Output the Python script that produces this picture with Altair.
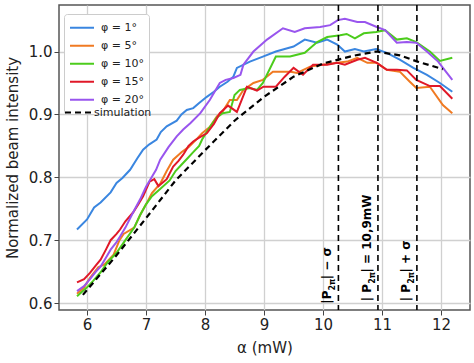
import altair as alt
import pandas as pd

X_LABEL = "α (mW)"
Y_LABEL = "Normalized beam intensity"

# --- measured beam intensity per angle phi -------------------------------
phi_labels = ["φ = 1°", "φ = 5°", "φ = 10°", "φ = 15°", "φ = 20°"]
phi_colors = ["#3a86e0", "#f07a22", "#4ccc1c", "#e01828", "#9955ee"]

phi1_x = [5.83, 6.0, 6.12, 6.23, 6.4, 6.5, 6.6, 6.73, 6.85, 6.95, 7.05, 7.18, 7.25,
          7.35, 7.52, 7.6, 7.69, 7.8, 7.9, 8.03, 8.15, 8.25, 8.38, 8.48, 8.54, 8.76,
          8.98, 9.2, 9.35, 9.5, 9.69, 9.9, 10.07, 10.24, 10.37, 10.54, 10.69, 10.9,
          11.08, 11.3, 11.53, 11.76, 11.98, 12.19]
phi1_y = [0.717, 0.733, 0.752, 0.76, 0.776, 0.791, 0.799, 0.812, 0.83, 0.844, 0.852,
          0.860, 0.872, 0.881, 0.89, 0.900, 0.907, 0.91, 0.918, 0.928, 0.936, 0.944,
          0.952, 0.96, 0.974, 0.984, 0.992, 1.0, 1.004, 1.008, 1.019, 1.014, 1.019,
          1.011, 1.0, 1.004, 1.0, 1.004, 0.998, 0.987, 0.974, 0.963, 0.95, 0.936]

phi5_x = [5.83, 5.95, 6.05, 6.19, 6.3, 6.45, 6.55, 6.62, 6.8, 6.9, 7.0, 7.1, 7.24,
          7.35, 7.46, 7.6, 7.72, 7.85, 7.95, 8.08, 8.2, 8.3, 8.42, 8.54, 8.65, 8.82,
          8.98, 9.15, 9.32, 9.45, 9.56, 9.78, 10.0, 10.24, 10.41, 10.58, 10.75, 10.91,
          11.08, 11.3, 11.47, 11.58, 11.81, 12.03, 12.19]
phi5_y = [0.615, 0.625, 0.64, 0.657, 0.662, 0.677, 0.70, 0.71, 0.72, 0.74, 0.757,
          0.775, 0.79, 0.81, 0.828, 0.84, 0.848, 0.86, 0.87, 0.88, 0.897, 0.905,
          0.923, 0.923, 0.939, 0.95, 0.955, 0.968, 0.968, 0.968, 0.966, 0.976, 0.979,
          0.982, 0.984, 0.99, 0.982, 0.982, 0.971, 0.968, 0.952, 0.942, 0.944, 0.915,
          0.902]

phi10_x = [5.83, 6.0, 6.1, 6.23, 6.35, 6.5, 6.65, 6.8, 6.9, 7.0, 7.1, 7.22, 7.4,
           7.5, 7.6, 7.7, 7.8, 7.9, 7.95, 8.08, 8.2, 8.3, 8.42, 8.5, 8.59, 8.76,
           8.88, 8.98, 9.2, 9.44, 9.69, 9.9, 10.07, 10.29, 10.4, 10.54, 10.69, 10.9,
           11.05, 11.25, 11.42, 11.58, 11.81, 11.98, 12.19]
phi10_y = [0.611, 0.625, 0.635, 0.649, 0.665, 0.68, 0.70, 0.72, 0.74, 0.757, 0.77,
           0.78, 0.795, 0.81, 0.82, 0.83, 0.84, 0.85, 0.86, 0.88, 0.895, 0.902,
           0.904, 0.931, 0.939, 0.942, 0.939, 0.95, 0.992, 0.992, 0.998, 1.015,
           1.023, 1.026, 1.028, 1.021, 1.029, 1.031, 1.034, 1.019, 1.021, 1.015, 1.0,
           0.985, 0.99]

phi15_x = [5.83, 5.95, 6.05, 6.15, 6.23, 6.32, 6.4, 6.5, 6.56, 6.65, 6.78, 6.87,
           6.95, 7.06, 7.14, 7.21, 7.35, 7.46, 7.55, 7.63, 7.72, 7.8, 7.9, 8.03, 8.15,
           8.25, 8.39, 8.54, 8.71, 8.88, 8.99, 9.1, 9.2, 9.35, 9.5, 9.66, 9.83, 10.07,
           10.24, 10.37, 10.58, 10.71, 10.91, 11.08, 11.25, 11.42, 11.58, 11.81,
           11.98, 12.19]
phi15_y = [0.633, 0.638, 0.648, 0.66, 0.669, 0.685, 0.70, 0.71, 0.717, 0.73, 0.744,
           0.757, 0.77, 0.793, 0.797, 0.786, 0.797, 0.817, 0.826, 0.836, 0.85, 0.857,
           0.863, 0.87, 0.885, 0.902, 0.914, 0.904, 0.944, 0.938, 0.944, 0.944,
           0.944, 0.96, 0.974, 0.963, 0.979, 0.979, 0.982, 0.979, 0.987, 0.99, 0.982,
           0.971, 0.971, 0.97, 0.955, 0.945, 0.945, 0.925]

phi20_x = [5.83, 5.95, 6.05, 6.15, 6.23, 6.32, 6.4, 6.5, 6.56, 6.65, 6.78, 6.9, 7.0,
           7.07, 7.17, 7.24, 7.38, 7.52, 7.63, 7.75, 7.92, 8.08, 8.25, 8.35, 8.48,
           8.6, 8.65, 8.82, 9.05, 9.32, 9.52, 9.69, 9.95, 10.12, 10.25, 10.37, 10.58,
           10.71, 10.91, 11.05, 11.25, 11.42, 11.58, 11.76, 11.95, 12.19]
phi20_y = [0.619, 0.627, 0.638, 0.65, 0.658, 0.672, 0.685, 0.697, 0.706, 0.72, 0.744,
           0.765, 0.785, 0.796, 0.812, 0.828, 0.848, 0.865, 0.876, 0.886, 0.902,
           0.923, 0.95, 0.955, 0.958, 0.963, 0.979, 1.0, 1.019, 1.037, 1.031, 1.037,
           1.039, 1.042, 1.05, 1.052, 1.047, 1.047, 1.039, 1.034, 1.014, 1.015, 1.014,
           1.0, 0.984, 0.955]

# --- simulated curve -------------------------------------------------------
sim_x = [5.93, 6.5, 7.0, 7.5, 8.0, 8.5, 9.0, 9.5, 10.0, 10.5, 10.9, 11.3, 11.6, 12.03]
sim_y = [0.613, 0.676, 0.735, 0.795, 0.843, 0.89, 0.928, 0.96, 0.981, 0.993, 1.0,
         0.994, 0.984, 0.972]

# --- |P_2pi| and its +/- sigma markers --------------------------------------
marker_x = [10.26, 10.93, 11.59]
marker_label_y = [0.599, 0.603, 0.603]
marker_prefix = ["|P", "| P", "| P"]
marker_sub = ["2π", "2π", "2π"]
marker_suffix = ["|  − σ", "| = 10,9mW", "| + σ"]

X_DOMAIN = [5.525, 12.49]
Y_DOMAIN = [0.589, 1.074]
X_TICKS = [6, 7, 8, 9, 10, 11, 12]
Y_TICKS = [0.6, 0.7, 0.8, 0.9, 1.0]

FONT = "DejaVu Sans"

series = [
    (phi_labels[0], phi1_x, phi1_y),
    (phi_labels[1], phi5_x, phi5_y),
    (phi_labels[2], phi10_x, phi10_y),
    (phi_labels[3], phi15_x, phi15_y),
    (phi_labels[4], phi20_x, phi20_y),
]
rows = []
for name, xv, yv in series:
    rows += [{"series": name, "x": a, "y": b} for a, b in zip(xv, yv)]
meas = pd.DataFrame(rows)

sim = pd.DataFrame({"x": sim_x, "y": sim_y, "kind": "simulation"})

markers = pd.DataFrame({
    "idx": [0, 1, 2],
    "x": marker_x,
    "ly": marker_label_y,
    "prefix": marker_prefix,
    "sub": marker_sub,
    "suffix": marker_suffix,
})

xs = alt.Scale(domain=X_DOMAIN, nice=False, zero=False)
ys = alt.Scale(domain=Y_DOMAIN, nice=False, zero=False)
x_enc = alt.X("x:Q", scale=xs, title=X_LABEL,
              axis=alt.Axis(values=X_TICKS, format="d"))
y_enc = alt.Y("y:Q", scale=ys, title=Y_LABEL,
              axis=alt.Axis(values=Y_TICKS, format=".1f"))

lines = alt.Chart(meas).mark_line(strokeWidth=2).encode(
    x=x_enc,
    y=y_enc,
    color=alt.Color(
        "series:N",
        scale=alt.Scale(domain=phi_labels, range=phi_colors),
        legend=alt.Legend(
            title=None, orient="none", legendX=5, legendY=9,
            symbolType="stroke", symbolSize=576, symbolStrokeWidth=2,
            labelFontSize=11, labelFont=FONT, labelColor="#222",
            fillColor="white", strokeColor="#cccccc", cornerRadius=3,
            padding=5, rowPadding=0, labelOffset=6, clipHeight=17.3,
        ),
    ),
    detail="series:N",
)

sim_line = alt.Chart(sim).mark_line(strokeWidth=2.2, color="black").encode(
    x=alt.X("x:Q", scale=xs),
    y=alt.Y("y:Q", scale=ys),
    strokeDash=alt.StrokeDash(
        "kind:N",
        scale=alt.Scale(domain=["simulation"], range=[[6, 4]]),
        legend=alt.Legend(
            title=None, orient="none", legendX=3, legendY=97,
            symbolType="stroke", symbolSize=729, symbolStrokeWidth=2,
            symbolStrokeColor="black", labelFontSize=11, labelFont=FONT,
            labelColor="#222", labelOffset=1, padding=2, clipHeight=17,
        ),
    ),
)

rules = alt.Chart(markers).mark_rule(
    color="black", strokeWidth=1.6, strokeDash=[6, 4]
).encode(x=alt.X("x:Q", scale=xs))

text_base = alt.Chart(markers).encode(
    x=alt.X("x:Q", scale=xs), y=alt.Y("ly:Q", scale=ys)
)
txt = dict(angle=270, align="left", baseline="bottom", font=FONT,
           fontWeight="bold", color="black")
prefix = text_base.mark_text(fontSize=12, dy=-4, **txt).encode(text="prefix:N")
sub_a = text_base.transform_filter("datum.idx == 0").mark_text(
    fontSize=8, dx=13.2, dy=-1, **txt).encode(text="sub:N")
sub_b = text_base.transform_filter("datum.idx > 0").mark_text(
    fontSize=8, dx=17.4, dy=-1, **txt).encode(text="sub:N")
suf_a = text_base.transform_filter("datum.idx == 0").mark_text(
    fontSize=12, dx=24.4, dy=-4, **txt).encode(text="suffix:N")
suf_b = text_base.transform_filter("datum.idx > 0").mark_text(
    fontSize=12, dx=28.6, dy=-4, **txt).encode(text="suffix:N")

chart = alt.layer(
    lines, sim_line, rules, prefix, sub_a, sub_b, suf_a, suf_b
).resolve_legend(color="independent", strokeDash="independent").properties(
    width=411,
    height=305,
    autosize=alt.AutoSizeParams(type="none"),
    padding={"left": 59, "top": 5, "right": 4, "bottom": 53},
    background="white",
).configure_view(
    stroke="#555555", strokeWidth=1.5
).configure_axis(
    labelFont=FONT, labelFontSize=15, labelColor="#222222",
    titleFont=FONT, titleFontSize=15, titleFontWeight="normal", titleColor="#222222",
    gridColor="#d0d0d0", gridWidth=1.3, domain=False,
    tickColor="#444444", tickSize=5, tickWidth=1, labelPadding=2,
).configure_axisY(titlePadding=8).configure_axisX(titlePadding=8)

chart.save("out.html", embed_options={"renderer": "svg", "actions": False})
